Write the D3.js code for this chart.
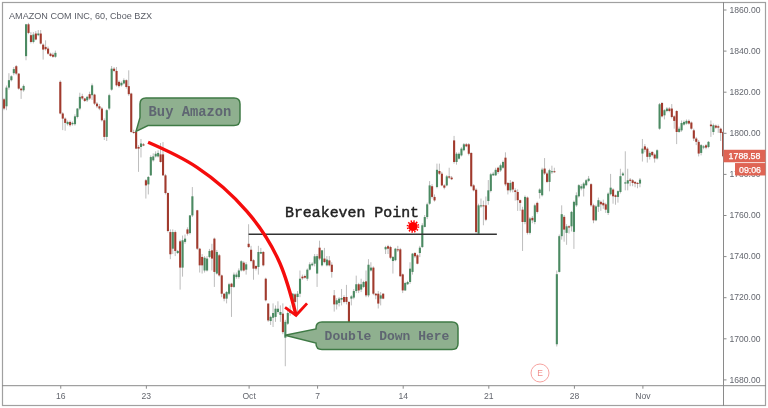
<!DOCTYPE html>
<html><head><meta charset="utf-8">
<script src="https://cdn.jsdelivr.net/npm/d3@7/dist/d3.min.js"></script>
<style>html,body{margin:0;padding:0;background:#fff}svg{display:block;filter:blur(0.3px)}</style></head>
<body><svg id="c" width="768" height="408"></svg>
<script>
// Every row: [open, close, high, low]. null = bar slot with no visible candle.
const sep12 = [[1816.3,1811.8,1817,1811],[1812.9,1822,1823,1811],[1822,1825.6,1829,1821],[1825.6,1827.5,1828,1825],[1829,1831,1832,1828],[1832.4,1828.8,1833,1828],[1828.8,1821.5,1829,1821],[1821.5,1820.7,1822,1816.5],[1820.7,1822.8,1823.5,1820]];
const sep13 = [[1837.3,1852.8,1853,1835.3],[1852.8,1848.6,1853.5,1848],[1847.5,1844.2,1849,1843.5],[1844.2,1847.8,1849,1843.5],[1848.3,1845.4,1849.5,1845],[1847.5,1848.3,1850,1847],[1848.3,1843.4,1850,1843],[1842.9,1840.5,1843.5,1835.6],[1841.8,1840.7,1845,1840],[1841,1838.5,1842,1838],[1838.5,1837.4,1839,1837],[1838,1837,1839,1836.5],[1837,1838.9,1840,1836.5],null];
const sep16 = [[1824.8,1809.4,1825.5,1809],[1809.4,1806.9,1810,1801.3],[1806.9,1804.8,1807.5,1801],[1804.2,1805.3,1806,1803.5],[1805.3,1803.7,1806,1803],[1804.2,1804.8,1805.5,1803.5],[1804.2,1808,1809,1803.5],[1807.7,1811.8,1812,1807],[1811.8,1817.5,1819.5,1811],[1817.8,1816.7,1819,1816],[1816.7,1815.5,1817,1815],[1815.8,1817.5,1818,1815],[1818.8,1816.7,1820,1816],[1818.3,1823.1,1824,1816]];
const sep18 = [[1818.6,1814.2,1819,1813.5],[1814.2,1812.9,1815,1812],[1812.9,1811.8,1814,1811],[1811.8,1806.1,1812.5,1805.5],[1806.1,1798,1807,1796.5],[1798,1811,1811.5,1796],[1811.8,1818.3,1819,1811],[1821,1831.2,1832.5,1820.5],[1831.2,1830.1,1832,1829.5],[1830.1,1823.1,1832,1822.5],[1824.8,1822.7,1825.5,1822],[1823.1,1824.3,1825,1822.5],[1824,1825.6,1826.5,1823.5],[1825.6,1822.3,1826,1821.5],[1822.7,1818.8,1830.4,1818],[1819.1,1800.4,1819.5,1800],[1800.4,1800.1,1801.5,1799.5],[1800.4,1792.3,1801,1792],[1793.1,1792.3,1794,1781],[1793.1,1794.8,1797,1788],[1794.4,1793.8,1795,1793.5]];
const sep23 = [[1776.9,1774.4,1777.5,1768],[1774.9,1778.5,1779,1770],[1779.3,1788.2,1789,1779],[1786.6,1788.5,1790,1786],[1788.5,1789.8,1791,1788],[1788.5,1790.2,1791.5,1788],[1789.5,1785.8,1795,1785.5],[1789.5,1779.3,1795.5,1779],[1779.3,1770.7,1780,1770],[1770.7,1752.2,1771,1751.5],[1751.7,1740.9,1753,1738.5],[1743.6,1751.7,1753,1741],[1751.7,1742.5,1752.5,1740],[1741.5,1742.5,1743,1741],[1747.2,1734.4,1748,1723.7],[1734.4,1747.7,1750,1730],[1746.9,1748.5,1750.5,1746],[1753,1750.9,1754,1750],[1751.2,1759.8,1760,1750.5],[1759.8,1769.1,1773.6,1759],null];
const sep26 = [[1762.3,1743.6,1762.5,1743],[1743.6,1735.5,1744,1732],[1739.6,1735.5,1741,1731.5],[1733,1739.2,1740,1732],[1733,1738.8,1740,1732.5],[1739.6,1742.5,1743.5,1739],[1742.8,1738.8,1746,1733],[1748.5,1732.3,1749,1725],[1731.5,1742,1743,1731],[1740.4,1730.6,1741,1730],[1730.6,1721.7,1731,1720],[1721.7,1719.3,1722,1718],[1719.3,1722.5,1723,1717],[1721.7,1726.3,1727,1721],[1726.6,1725,1727,1710.4],[1725,1731,1732,1724.5],[1729.8,1731,1732,1729],[1729.8,1733,1734,1729],[1733,1737.5,1738,1732.5],[1736.8,1733,1737.5,1732.5],[1733.4,1736,1737,1731]];
const oct01 = [[1746,1744.4,1755.5,1744],[1743.1,1737.6,1745,1737],[1738,1733.9,1738.5,1728.5],[1735.2,1733.9,1735.5,1733],[1734.7,1742,1745,1731],[1741.2,1742,1744,1741],[1742,1735.5,1742.5,1735],[1729,1718.5,1729.5,1718],[1716.9,1708.7,1717,1708],[1708.4,1710.4,1711,1706.5],[1710,1712.3,1717,1705.5],[1710.4,1714.4,1716,1708],[1712.8,1714.4,1718,1712],[1711.4,1712.8,1716,1708],[1712,1703,1717,1702],[1700.3,1708,1709,1686.4],[1707.1,1712.3,1715,1706.5],[1712.3,1713.6,1716,1711],[1717.2,1721.7,1722,1716],[1721.4,1717.7,1722,1715],[1720.1,1721.7,1723,1712],[1721.7,1729,1733,1720],[1730,1729.2,1731,1728.5],[1730.3,1729.5,1731,1729],[1729,1733.4,1734,1728],[1733.4,1736,1737,1733],[1735.5,1736.3,1737,1735],[1736.3,1739.9,1741,1735]];
const oct07 = [[1731.5,1740,1741,1725],[1744.1,1738.8,1747.5,1738],[1735.5,1742.8,1743,1735],[1738.8,1737.1,1744,1736.5],[1735.5,1738.3,1740,1735],[1737.9,1735.5,1740,1735],[1735.8,1732.3,1737,1729.5],[1720.9,1716.5,1723.5,1713],[1716.5,1718.5,1719.5,1714],[1717.2,1719.3,1720,1715.5],[1718.8,1719.6,1724,1716],[1720.1,1717.7,1721,1717],[1720.1,1717.7,1726,1716.5],[1717.7,1705.5,1718,1705],[1719.3,1720.4,1721,1716],[1719.8,1723,1724,1719],[1723,1726.3,1730.5,1722],[1726.3,1723.3,1727,1722],[1723.7,1726.3,1729,1722.5],[1725,1727.4,1728,1724.5],[1727.7,1720.9,1733,1720],[1720.9,1735.8,1738.5,1720],[1733,1734.4,1737,1732.5],[1734.4,1721.7,1735,1721],[1721.7,1720.9,1722,1719],[1721.7,1716.9,1723,1714.5],[1719.3,1720.9,1722.5,1716],[1721.7,1719.3,1722,1719]];
const oct14 = [[1743.3,1744.4,1745,1741],[1744.8,1743.6,1745.5,1741],[1744.4,1739.2,1745,1738.5],[1737.6,1739.6,1740,1731.5],[1738,1743.6,1744,1737.5],[1743.3,1742.8,1745,1742],[1743.3,1730.2,1744,1730],[1731.1,1723.3,1731.5,1722],[1723.3,1726.9,1727.5,1723],[1726.3,1727.4,1728,1726],[1727.4,1733.9,1737,1726.5],[1732.3,1741.2,1741.5,1731],[1741.5,1739.9,1742,1739],[1740.4,1736.3,1741,1736],[1741.5,1744.1,1745,1739.5],[1744.4,1755,1756,1744],[1754.2,1759,1760,1754],[1759,1765.2,1766,1758],[1765.5,1774.4,1776.5,1765],[1774,1768.8,1775,1768],[1768.8,1767.1,1770,1766.5],[1773.6,1782,1785,1773],[1781.4,1780.1,1785,1779.5],[1780.1,1774.4,1781,1774],[1774.4,1773.3,1775,1772.5],[1774.4,1778.8,1779.5,1774],[1778.8,1778.2,1783,1777.5],[1778.2,1777.4,1779,1777]];
const oct18 = [[1796.3,1785.8,1798.5,1785],[1785.8,1789.8,1790.5,1784.5],[1787.4,1789.8,1790.5,1787],[1789,1792.3,1793,1788.5],[1791.5,1794.4,1795,1791],[1794.4,1793.4,1795,1793],[1794.4,1789.8,1795,1789],[1790.2,1774,1790.5,1773.5],[1774.4,1772,1775,1771.5],[1772.3,1751.7,1773,1751],[1750.9,1764.7,1765.5,1750.5],[1764.2,1764.7,1768,1763.5],[1764.7,1764.2,1767,1755],[1764.7,1757.7,1769,1757]];
const oct21 = [[1766.8,1772,1777,1765],[1771.7,1779.8,1780.5,1771],[1779.3,1780.1,1781,1779],[1779.3,1782,1783,1779],[1783,1780.9,1783.5,1780],[1781.7,1784.2,1785,1781],[1783,1785.8,1786.5,1782.5],[1787.9,1774.9,1790.5,1774],[1775.6,1772,1776,1770],[1772,1775.6,1777,1771],[1776.1,1772.4,1776.5,1771],[1772,1771.2,1773,1767],[1771.2,1767.2,1772.5,1762],[1767.2,1765.9,1767.5,1762],[1762.6,1756.6,1764,1742.5],[1756.6,1768.8,1769.5,1755.5],[1768.5,1751.3,1769,1750.5],[1751.3,1758.3,1759,1750.5],[1758.6,1757.4,1759.5,1756],[1756.6,1764.7,1765.5,1755.5],[1765.9,1761.5,1766.5,1760.7],[1770.7,1772.4,1773,1768],[1769.6,1782.1,1783,1769],[1782.6,1780.2,1787.7,1779.5],[1780.2,1776.1,1781,1775.5],[1776.1,1781.8,1782.5,1771.5],[1780.8,1781.3,1784,1780],[1781.3,1781,1783,1780.5]];
const oct28 = [[1697.1,1731.2,1733,1696],[1732.3,1749.7,1750.5,1732],[1749.7,1760.4,1764.7,1748],[1759.1,1752.9,1760,1747],[1751.3,1754.5,1755.5,1745.5],[1754.5,1753.9,1755,1751],[1754.5,1761.5,1762,1752],[1751.8,1766.4,1767,1743.5],[1764.7,1769.6,1771,1764],[1769.1,1774.5,1775,1768.5],[1772.9,1774,1775,1772],[1772.9,1775.3,1776,1769],[1774.5,1776.9,1777.5,1774],[1776.6,1777.7,1779,1776],[1775,1764.7,1775.5,1764],[1764.7,1757.4,1765.5,1756],[1757.4,1764.2,1765,1757],[1764,1767.2,1768.5,1761.5],[1766.4,1765.2,1767,1762],[1765.9,1764.7,1767.5,1763],[1765.2,1762.6,1766,1761]];
const nov01 = [[1761,1770.4,1771,1760],[1770.1,1773.3,1780,1769.5],[1772.4,1769.1,1773,1765.5],[1769.6,1768.8,1770,1765],[1768.8,1771.6,1772,1766],[1771.2,1778.9,1782.5,1770.5],[1779.3,1780.2,1781,1779],[1775.3,1775.9,1791,1772],[1775.3,1776.9,1782.5,1772],[1777.2,1776.6,1778,1774],[1776.9,1775.6,1777.5,1774],[1776.1,1775.3,1776.5,1773.5],[1775.6,1775.3,1776,1773],[1775.3,1777.2,1778,1773.5]];
const nov04 = [[1789.9,1792.3,1797,1786],[1793.4,1791.8,1794.5,1790.5],[1792.3,1788.3,1793,1785.5],[1788.3,1790.2,1791,1787],[1790.7,1789.1,1791,1788.5],[1789.4,1787.5,1790,1785.5],[1787.5,1791.5,1792,1787]];
const nov05 = [[1802,1813.9,1814.5,1801.5],[1814.5,1808,1815,1807.5],[1808.5,1811,1811.5,1806.5],[1810.6,1811.8,1812.5,1810],[1811.8,1810.6,1812.5,1810],[1811.8,1807.7,1814,1807],[1808,1805.8,1808.5,1802],[1810.6,1800.4,1811,1794.5],[1800.4,1802,1803,1800],[1801.2,1804.8,1806,1800.5],[1804,1805.3,1806,1803.5],[1804.5,1805.8,1806.5,1804],[1805.8,1804.5,1806.5,1804],[1805,1802,1805.5,1801.5],[1801.2,1797.2,1802,1796],[1797.2,1795.6,1798,1794],[1795.6,1789.9,1796.5,1788.5],[1790.2,1794,1794.5,1789],[1792.8,1793.4,1794,1792],[1793.9,1792.8,1794.5,1792],[1793.1,1795.6,1796,1792.5],[1804,1803.2,1806,1798],[1800.4,1803.7,1804.5,1799],[1803.5,1802.5,1804,1802],[1803.2,1802.5,1804,1800],[1802,1799.9,1802.5,1796],[1800.4,1788.58,1801,1788]];
const bars = [].concat(sep12,sep13,sep16,sep18,sep23,sep26,oct01,oct07,oct14,oct18,oct21,oct28,nov01,nov04,nov05);

const priceTicks = [1680,1700,1720,1740,1760,1780,1800,1820,1840,1860];
const timeTickBars = [23,58,100,128,163,198,233,261];
const timeTickLabels = ["16","23","Oct","7","14","21","28","Nov"];
const title = "AMAZON COM INC, 60, Cboe BZX";
const lastPrice = 1788.58, countdown = "09:06";
const breakevenLevel = 1750.6, breakevenBars = [100,201.5], breakevenDot = [167.2,1754.4];
const arcPath = [[58.9,1795.4],[78.9,1783.2],[99.3,1761.8],[112.8,1736.5],[119.4,1711.2]];
const arrowHead = [[114.9,1715],[119.4,1711.2],[123.9,1717]];
const buyTip = [54,1800.7], downTip = [114.9,1701.5];

const W=768,H=408, plotL=3, plotR=723, plotT=3, plotB=386;
const x=d3.scaleLinear().domain([0,294]).range([4,4+2.446*294]);
const y=d3.scaleLinear().domain([1680,1860]).range([379.4,9.5]);
const svg=d3.select('#c');
const FONT='"Liberation Sans",Arial,sans-serif', MONO='"Liberation Mono",monospace';
const axisCol='#8a8a8a', txtCol='#63666e';
svg.append('rect').attr('width',W).attr('height',H).attr('fill','#fff');
svg.append('defs').append('clipPath').attr('id','plot').append('rect').attr('x',plotL).attr('y',plotT).attr('width',plotR-plotL).attr('height',plotB-plotT);

const g=svg.append('g').attr('clip-path','url(#plot)');
const data=bars.map((d,i)=>d&&({i,o:d[0],c:d[1],h:d[2],l:d[3]})).filter(Boolean);
g.selectAll('.w').data(data).join('line').attr('x1',d=>x(d.i)).attr('x2',d=>x(d.i))
 .attr('y1',d=>y(d.h)).attr('y2',d=>y(d.l)).attr('stroke','#bdbdbd').attr('stroke-width',1);
g.selectAll('.b').data(data).join('rect').attr('x',d=>x(d.i)-1).attr('width',2.1)
 .attr('y',d=>y(Math.max(d.o,d.c))).attr('height',d=>Math.max(1,Math.abs(y(d.o)-y(d.c))))
 .attr('fill',d=>d.c>=d.o?'#4b8a62':'#a13a2d');

// frame
svg.append('rect').attr('x',2.5).attr('y',2.5).attr('width',763).attr('height',403).attr('fill','none').attr('stroke','#a0a0a0').attr('stroke-width',1.2);
svg.append('line').attr('x1',723.5).attr('x2',723.5).attr('y1',2).attr('y2',406).attr('stroke',axisCol).attr('stroke-width',1);
svg.append('line').attr('x1',2).attr('x2',766).attr('y1',385.7).attr('y2',385.7).attr('stroke',axisCol).attr('stroke-width',1);

// axes via d3
const yAxis=d3.axisRight(y).tickValues(priceTicks).tickSize(3).tickPadding(3).tickFormat(d3.format('.2f'));
const ya=svg.append('g').attr('transform','translate(723.5,0)').call(yAxis);
ya.select('.domain').remove();
ya.selectAll('line').attr('stroke',axisCol);
ya.selectAll('text').attr('font-family',FONT).attr('font-size',8.6).attr('fill',txtCol);
const xAxis=d3.axisBottom(x).tickValues(timeTickBars).tickSize(3).tickPadding(4).tickFormat((d,i)=>timeTickLabels[i]);
const xa=svg.append('g').attr('transform','translate(0,385.7)').call(xAxis);
xa.select('.domain').remove();
xa.selectAll('line').attr('stroke',axisCol);
xa.selectAll('text').attr('font-family',FONT).attr('font-size',8.6).attr('fill',txtCol);

svg.append('text').attr('x',9).attr('y',18.5).attr('font-family',FONT).attr('font-size',9.1).attr('fill','#5a5d66').text(title);

// price labels
const py=y(lastPrice);
svg.append('rect').attr('x',723.5).attr('y',py-6.5).attr('width',42).attr('height',12.5).attr('fill','#df6454');
svg.append('text').attr('x',744.5).attr('y',py+3).attr('text-anchor','middle').attr('font-family',FONT).attr('font-size',8.8).attr('stroke','#fff').attr('stroke-width',0.25).attr('fill','#fff').text(lastPrice.toFixed(2));
svg.append('rect').attr('x',735).attr('y',py+6.8).attr('width',30.5).attr('height',12.4).attr('fill','#df6454');
svg.append('text').attr('x',750).attr('y',py+16.3).attr('text-anchor','middle').attr('font-family',FONT).attr('font-size',8.8).attr('stroke','#fff').attr('stroke-width',0.25).attr('fill','#fff').text(countdown);

// earnings marker
svg.append('circle').attr('cx',540).attr('cy',373).attr('r',9).attr('fill','#fff').attr('stroke','#f7a3a0').attr('stroke-width',1);
svg.append('text').attr('x',540).attr('y',376).attr('text-anchor','middle').attr('font-family',FONT).attr('font-size',8.5).attr('fill','#f08f8c').text('E');

// breakeven
svg.append('line').attr('x1',x(breakevenBars[0])).attr('x2',x(breakevenBars[1])).attr('y1',y(breakevenLevel)).attr('y2',y(breakevenLevel)).attr('stroke','#333').attr('stroke-width',1.5);
svg.append('text').attr('x',285).attr('y',217).attr('font-family',MONO).attr('font-size',14.9).attr('stroke','#222').attr('stroke-width',0.45).attr('fill','#222').text('Breakeven Point');
const dx=x(breakevenDot[0]),dy=y(breakevenDot[1]);
svg.append('circle').attr('cx',dx).attr('cy',dy).attr('r',4.6).attr('fill','#f00');
svg.append('circle').attr('cx',dx).attr('cy',dy).attr('r',5.4).attr('fill','none').attr('stroke','#f00').attr('stroke-width',1.8).attr('stroke-dasharray','1.4 1.4');

// red arc and arrow
const line=d3.line().x(d=>x(d[0])).y(d=>y(d[1]));
svg.append('path').attr('d',line.curve(d3.curveNatural)(arcPath)).attr('fill','none').attr('stroke','#f50c0c').attr('stroke-width',3.4);
svg.append('path').attr('d',line.curve(d3.curveLinear)(arrowHead)).attr('fill','none').attr('stroke','#f50c0c').attr('stroke-width',2.8);

// callouts
function callout(x0,y0,x1,y1,tip,base,label,fs){
  const r=6, p=d3.path();
  const t=[x(tip[0]),y(tip[1])];
  p.moveTo(x0+r,y0);p.lineTo(x1-r,y0);p.quadraticCurveTo(x1,y0,x1,y0+r);p.lineTo(x1,y1-r);p.quadraticCurveTo(x1,y1,x1-r,y1);
  if(base.side==='bottom'){p.lineTo(base.b,y1);p.lineTo(t[0],t[1]);p.lineTo(base.a,y1-r-2);p.lineTo(x0,y0+r);}
  else{p.lineTo(x0+r,y1);p.quadraticCurveTo(x0,y1,x0,y1-r);p.lineTo(x0,base.b);p.lineTo(t[0],t[1]);p.lineTo(x0,base.a);p.lineTo(x0,y0+r);}
  p.quadraticCurveTo(x0,y0,x0+r,y0);p.closePath();
  svg.append('path').attr('d',p.toString()).attr('fill','#8fb08f').attr('stroke','#3f7a45').attr('stroke-width',1.5);
  svg.append('text').attr('x',(x0+x1)/2).attr('y',(y0+y1)/2+4).attr('text-anchor','middle').attr('font-family',MONO).attr('font-weight','bold').attr('font-size',fs).attr('fill','#5f6672').text(label);
}
callout(140,98,240,125.5,buyTip,{side:'bottom',a:140,b:148},'Buy Amazon',13.8);
callout(316,322,458,349.5,downTip,{side:'left',a:329,b:343},'Double Down Here',13);
</script></body></html>
